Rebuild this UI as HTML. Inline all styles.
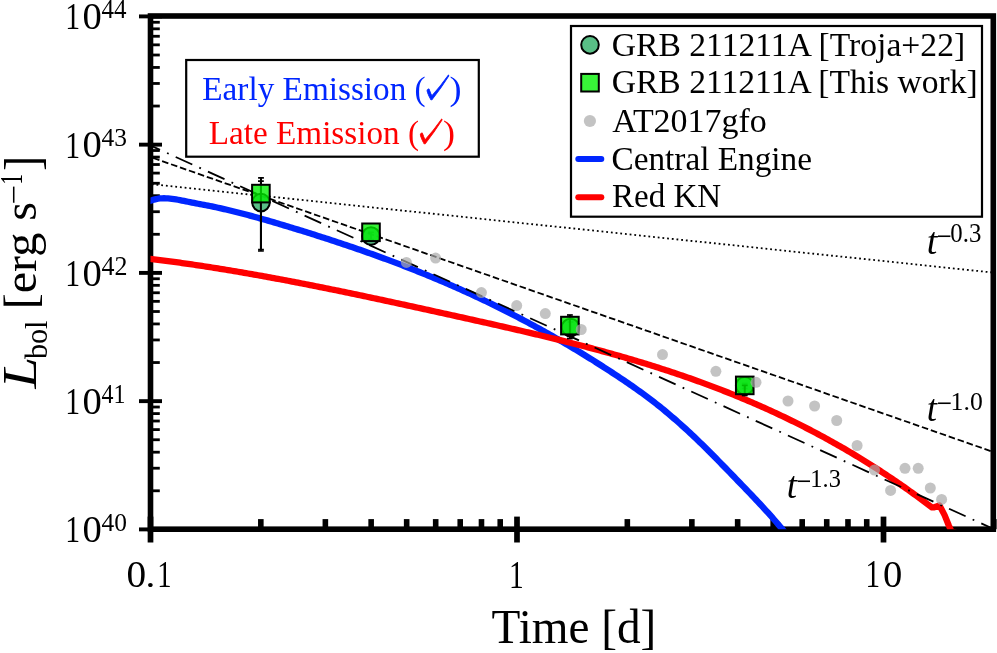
<!DOCTYPE html><html><head><meta charset="utf-8"><style>html,body{margin:0;padding:0;background:#fff;overflow:hidden}svg{display:block}text{font-family:"Liberation Serif","DejaVu Serif",serif}</style></head><body>
<svg width="997" height="653" viewBox="0 0 997 653">
<defs><clipPath id="ax"><rect x="150.50" y="16.00" width="842.80" height="513.20"/></clipPath></defs>
<rect width="997" height="653" fill="#fff"/>
<rect x="150.50" y="16.00" width="842.80" height="513.20" fill="none" stroke="#000" stroke-width="5.60"/>
<line x1="150.50" y1="516.6" x2="150.50" y2="542.5" stroke="#000" stroke-width="5.7"/>
<line x1="517.00" y1="516.6" x2="517.00" y2="542.5" stroke="#000" stroke-width="5.7"/>
<line x1="883.50" y1="516.6" x2="883.50" y2="542.5" stroke="#000" stroke-width="5.7"/>
<line x1="260.83" y1="519.1" x2="260.83" y2="529.20" stroke="#000" stroke-width="5.6"/>
<line x1="325.36" y1="519.1" x2="325.36" y2="529.20" stroke="#000" stroke-width="5.6"/>
<line x1="371.15" y1="519.1" x2="371.15" y2="529.20" stroke="#000" stroke-width="5.6"/>
<line x1="406.67" y1="519.1" x2="406.67" y2="529.20" stroke="#000" stroke-width="5.6"/>
<line x1="435.69" y1="519.1" x2="435.69" y2="529.20" stroke="#000" stroke-width="5.6"/>
<line x1="460.23" y1="519.1" x2="460.23" y2="529.20" stroke="#000" stroke-width="5.6"/>
<line x1="481.48" y1="519.1" x2="481.48" y2="529.20" stroke="#000" stroke-width="5.6"/>
<line x1="500.23" y1="519.1" x2="500.23" y2="529.20" stroke="#000" stroke-width="5.6"/>
<line x1="627.33" y1="519.1" x2="627.33" y2="529.20" stroke="#000" stroke-width="5.6"/>
<line x1="691.86" y1="519.1" x2="691.86" y2="529.20" stroke="#000" stroke-width="5.6"/>
<line x1="737.65" y1="519.1" x2="737.65" y2="529.20" stroke="#000" stroke-width="5.6"/>
<line x1="773.17" y1="519.1" x2="773.17" y2="529.20" stroke="#000" stroke-width="5.6"/>
<line x1="802.19" y1="519.1" x2="802.19" y2="529.20" stroke="#000" stroke-width="5.6"/>
<line x1="826.73" y1="519.1" x2="826.73" y2="529.20" stroke="#000" stroke-width="5.6"/>
<line x1="847.98" y1="519.1" x2="847.98" y2="529.20" stroke="#000" stroke-width="5.6"/>
<line x1="866.73" y1="519.1" x2="866.73" y2="529.20" stroke="#000" stroke-width="5.6"/>
<line x1="993.83" y1="519.1" x2="993.83" y2="529.20" stroke="#000" stroke-width="5.6"/>
<line x1="139" y1="529.40" x2="162" y2="529.40" stroke="#000" stroke-width="3.9"/>
<line x1="139" y1="401.15" x2="162" y2="401.15" stroke="#000" stroke-width="3.9"/>
<line x1="139" y1="272.90" x2="162" y2="272.90" stroke="#000" stroke-width="3.9"/>
<line x1="139" y1="144.65" x2="162" y2="144.65" stroke="#000" stroke-width="3.9"/>
<line x1="139" y1="16.40" x2="162" y2="16.40" stroke="#000" stroke-width="3.9"/>
<line x1="150.50" y1="490.79" x2="159.8" y2="490.79" stroke="#000" stroke-width="2.8"/>
<line x1="150.50" y1="468.21" x2="159.8" y2="468.21" stroke="#000" stroke-width="2.8"/>
<line x1="150.50" y1="452.19" x2="159.8" y2="452.19" stroke="#000" stroke-width="2.8"/>
<line x1="150.50" y1="439.76" x2="159.8" y2="439.76" stroke="#000" stroke-width="2.8"/>
<line x1="150.50" y1="429.60" x2="159.8" y2="429.60" stroke="#000" stroke-width="2.8"/>
<line x1="150.50" y1="421.02" x2="159.8" y2="421.02" stroke="#000" stroke-width="2.8"/>
<line x1="150.50" y1="413.58" x2="159.8" y2="413.58" stroke="#000" stroke-width="2.8"/>
<line x1="150.50" y1="407.02" x2="159.8" y2="407.02" stroke="#000" stroke-width="2.8"/>
<line x1="150.50" y1="362.54" x2="159.8" y2="362.54" stroke="#000" stroke-width="2.8"/>
<line x1="150.50" y1="339.96" x2="159.8" y2="339.96" stroke="#000" stroke-width="2.8"/>
<line x1="150.50" y1="323.94" x2="159.8" y2="323.94" stroke="#000" stroke-width="2.8"/>
<line x1="150.50" y1="311.51" x2="159.8" y2="311.51" stroke="#000" stroke-width="2.8"/>
<line x1="150.50" y1="301.35" x2="159.8" y2="301.35" stroke="#000" stroke-width="2.8"/>
<line x1="150.50" y1="292.77" x2="159.8" y2="292.77" stroke="#000" stroke-width="2.8"/>
<line x1="150.50" y1="285.33" x2="159.8" y2="285.33" stroke="#000" stroke-width="2.8"/>
<line x1="150.50" y1="278.77" x2="159.8" y2="278.77" stroke="#000" stroke-width="2.8"/>
<line x1="150.50" y1="234.29" x2="159.8" y2="234.29" stroke="#000" stroke-width="2.8"/>
<line x1="150.50" y1="211.71" x2="159.8" y2="211.71" stroke="#000" stroke-width="2.8"/>
<line x1="150.50" y1="195.69" x2="159.8" y2="195.69" stroke="#000" stroke-width="2.8"/>
<line x1="150.50" y1="183.26" x2="159.8" y2="183.26" stroke="#000" stroke-width="2.8"/>
<line x1="150.50" y1="173.10" x2="159.8" y2="173.10" stroke="#000" stroke-width="2.8"/>
<line x1="150.50" y1="164.52" x2="159.8" y2="164.52" stroke="#000" stroke-width="2.8"/>
<line x1="150.50" y1="157.08" x2="159.8" y2="157.08" stroke="#000" stroke-width="2.8"/>
<line x1="150.50" y1="150.52" x2="159.8" y2="150.52" stroke="#000" stroke-width="2.8"/>
<line x1="150.50" y1="106.04" x2="159.8" y2="106.04" stroke="#000" stroke-width="2.8"/>
<line x1="150.50" y1="83.46" x2="159.8" y2="83.46" stroke="#000" stroke-width="2.8"/>
<line x1="150.50" y1="67.44" x2="159.8" y2="67.44" stroke="#000" stroke-width="2.8"/>
<line x1="150.50" y1="55.01" x2="159.8" y2="55.01" stroke="#000" stroke-width="2.8"/>
<line x1="150.50" y1="44.85" x2="159.8" y2="44.85" stroke="#000" stroke-width="2.8"/>
<line x1="150.50" y1="36.27" x2="159.8" y2="36.27" stroke="#000" stroke-width="2.8"/>
<line x1="150.50" y1="28.83" x2="159.8" y2="28.83" stroke="#000" stroke-width="2.8"/>
<line x1="150.50" y1="22.27" x2="159.8" y2="22.27" stroke="#000" stroke-width="2.8"/>
<g clip-path="url(#ax)" fill="none" stroke-linejoin="round">
<path d="M140.00,206.93 L142.00,205.40 L144.00,204.04 L146.00,202.84 L148.00,201.81 L150.00,200.92 L152.00,200.18 L154.00,199.58 L156.00,199.10 L158.00,198.73 L160.00,198.48 L162.00,198.33 L164.00,198.27 L166.00,198.30 L168.00,198.40 L170.00,198.57 L172.00,198.80 L174.00,199.08 L176.00,199.40 L178.00,199.76 L180.00,200.14 L182.00,200.55 L184.00,200.96 L186.00,201.37 L188.00,201.78 L190.00,202.18 L192.00,202.57 L194.00,202.95 L196.00,203.34 L198.00,203.72 L200.00,204.09 L202.00,204.47 L204.00,204.86 L206.00,205.24 L208.00,205.63 L210.00,206.03 L212.00,206.44 L214.00,206.86 L216.00,207.28 L218.00,207.72 L220.00,208.16 L222.00,208.60 L224.00,209.06 L226.00,209.52 L228.00,209.99 L230.00,210.47 L232.00,210.95 L234.00,211.44 L236.00,211.94 L238.00,212.44 L240.00,212.95 L242.00,213.47 L244.00,213.99 L246.00,214.52 L248.00,215.05 L250.00,215.59 L252.00,216.13 L254.00,216.68 L256.00,217.23 L258.00,217.78 L260.00,218.35 L262.00,218.91 L264.00,219.48 L266.00,220.05 L268.00,220.63 L270.00,221.21 L272.00,221.80 L274.00,222.38 L276.00,222.97 L278.00,223.57 L280.00,224.16 L282.00,224.76 L284.00,225.36 L286.00,225.97 L288.00,226.57 L290.00,227.18 L292.00,227.79 L294.00,228.40 L296.00,229.01 L298.00,229.63 L300.00,230.24 L302.00,230.86 L304.00,231.48 L306.00,232.11 L308.00,232.73 L310.00,233.36 L312.00,233.99 L314.00,234.62 L316.00,235.25 L318.00,235.89 L320.00,236.53 L322.00,237.17 L324.00,237.81 L326.00,238.46 L328.00,239.11 L330.00,239.76 L332.00,240.41 L334.00,241.07 L336.00,241.73 L338.00,242.39 L340.00,243.05 L342.00,243.72 L344.00,244.39 L346.00,245.06 L348.00,245.74 L350.00,246.42 L352.00,247.10 L354.00,247.78 L356.00,248.47 L358.00,249.16 L360.00,249.85 L362.00,250.55 L364.00,251.25 L366.00,251.95 L368.00,252.66 L370.00,253.37 L372.00,254.08 L374.00,254.80 L376.00,255.51 L378.00,256.24 L380.00,256.96 L382.00,257.69 L384.00,258.43 L386.00,259.16 L388.00,259.90 L390.00,260.65 L392.00,261.39 L394.00,262.14 L396.00,262.90 L398.00,263.66 L400.00,264.42 L402.00,265.18 L404.00,265.95 L406.00,266.73 L408.00,267.51 L410.00,268.29 L412.00,269.07 L414.00,269.86 L416.00,270.66 L418.00,271.45 L420.00,272.26 L422.00,273.06 L424.00,273.87 L426.00,274.69 L428.00,275.51 L430.00,276.33 L432.00,277.16 L434.00,277.99 L436.00,278.83 L438.00,279.67 L440.00,280.51 L442.00,281.36 L444.00,282.22 L446.00,283.08 L448.00,283.94 L450.00,284.81 L452.00,285.68 L454.00,286.56 L456.00,287.44 L458.00,288.33 L460.00,289.22 L462.00,290.12 L464.00,291.02 L466.00,291.93 L468.00,292.84 L470.00,293.76 L472.00,294.68 L474.00,295.60 L476.00,296.54 L478.00,297.47 L480.00,298.42 L482.00,299.36 L484.00,300.32 L486.00,301.27 L488.00,302.24 L490.00,303.20 L492.00,304.18 L494.00,305.16 L496.00,306.14 L498.00,307.13 L500.00,308.12 L502.00,309.12 L504.00,310.13 L506.00,311.14 L508.00,312.15 L510.00,313.17 L512.00,314.20 L514.00,315.23 L516.00,316.26 L518.00,317.31 L520.00,318.35 L522.00,319.40 L524.00,320.46 L526.00,321.52 L528.00,322.59 L530.00,323.67 L532.00,324.75 L534.00,325.83 L536.00,326.92 L538.00,328.02 L540.00,329.12 L542.00,330.22 L544.00,331.34 L546.00,332.45 L548.00,333.58 L550.00,334.70 L552.00,335.84 L554.00,336.98 L556.00,338.12 L558.00,339.27 L560.00,340.43 L562.00,341.59 L564.00,342.76 L566.00,343.93 L568.00,345.11 L570.00,346.30 L572.00,347.49 L574.00,348.68 L576.00,349.88 L578.00,351.09 L580.00,352.30 L582.00,353.52 L584.00,354.74 L586.00,355.98 L588.00,357.21 L590.00,358.45 L592.00,359.70 L594.00,360.95 L596.00,362.21 L598.00,363.48 L600.00,364.75 L602.00,366.02 L604.00,367.31 L606.00,368.59 L608.00,369.89 L610.00,371.19 L612.00,372.49 L614.00,373.81 L616.00,375.12 L618.00,376.45 L620.00,377.78 L622.00,379.12 L624.00,380.47 L626.00,381.82 L628.00,383.19 L630.00,384.57 L632.00,385.95 L634.00,387.35 L636.00,388.76 L638.00,390.19 L640.00,391.62 L642.00,393.07 L644.00,394.53 L646.00,396.01 L648.00,397.50 L650.00,399.01 L652.00,400.53 L654.00,402.08 L656.00,403.63 L658.00,405.21 L660.00,406.81 L662.00,408.42 L664.00,410.05 L666.00,411.70 L668.00,413.37 L670.00,415.06 L672.00,416.77 L674.00,418.49 L676.00,420.23 L678.00,421.99 L680.00,423.77 L682.00,425.56 L684.00,427.37 L686.00,429.19 L688.00,431.03 L690.00,432.89 L692.00,434.76 L694.00,436.65 L696.00,438.55 L698.00,440.47 L700.00,442.40 L702.00,444.35 L704.00,446.31 L706.00,448.28 L708.00,450.27 L710.00,452.26 L712.00,454.27 L714.00,456.28 L716.00,458.31 L718.00,460.34 L720.00,462.38 L722.00,464.43 L724.00,466.48 L726.00,468.54 L728.00,470.60 L730.00,472.66 L732.00,474.73 L734.00,476.80 L736.00,478.87 L738.00,480.95 L740.00,483.02 L742.00,485.09 L744.00,487.16 L746.00,489.24 L748.00,491.32 L750.00,493.41 L752.00,495.51 L754.00,497.61 L756.00,499.73 L758.00,501.85 L760.00,503.99 L762.00,506.15 L764.00,508.32 L766.00,510.51 L768.00,512.72 L770.00,514.95 L772.00,517.21 L774.00,519.49 L776.00,521.79 L778.00,524.12 L780.00,526.48 L782.00,528.87 L784.00,531.29 L786.00,533.74 L788.00,536.23 L790.00,538.76 L792.00,541.32" stroke="#0026ff" stroke-width="6.3"/>
<path d="M140.00,257.62 L142.00,257.85 L144.00,258.09 L146.00,258.32 L148.00,258.56 L150.00,258.81 L152.00,259.05 L154.00,259.30 L156.00,259.55 L158.00,259.80 L160.00,260.06 L162.00,260.31 L164.00,260.57 L166.00,260.84 L168.00,261.10 L170.00,261.37 L172.00,261.64 L174.00,261.91 L176.00,262.18 L178.00,262.46 L180.00,262.74 L182.00,263.02 L184.00,263.30 L186.00,263.59 L188.00,263.88 L190.00,264.17 L192.00,264.46 L194.00,264.75 L196.00,265.05 L198.00,265.35 L200.00,265.65 L202.00,265.95 L204.00,266.26 L206.00,266.57 L208.00,266.88 L210.00,267.19 L212.00,267.50 L214.00,267.82 L216.00,268.14 L218.00,268.46 L220.00,268.78 L222.00,269.10 L224.00,269.43 L226.00,269.75 L228.00,270.08 L230.00,270.42 L232.00,270.75 L234.00,271.08 L236.00,271.42 L238.00,271.76 L240.00,272.10 L242.00,272.44 L244.00,272.79 L246.00,273.13 L248.00,273.48 L250.00,273.83 L252.00,274.18 L254.00,274.54 L256.00,274.89 L258.00,275.25 L260.00,275.60 L262.00,275.96 L264.00,276.33 L266.00,276.69 L268.00,277.05 L270.00,277.42 L272.00,277.79 L274.00,278.16 L276.00,278.53 L278.00,278.90 L280.00,279.27 L282.00,279.65 L284.00,280.03 L286.00,280.40 L288.00,280.78 L290.00,281.16 L292.00,281.55 L294.00,281.93 L296.00,282.32 L298.00,282.70 L300.00,283.09 L302.00,283.48 L304.00,283.87 L306.00,284.26 L308.00,284.66 L310.00,285.05 L312.00,285.45 L314.00,285.84 L316.00,286.24 L318.00,286.64 L320.00,287.04 L322.00,287.44 L324.00,287.84 L326.00,288.25 L328.00,288.65 L330.00,289.06 L332.00,289.47 L334.00,289.87 L336.00,290.28 L338.00,290.69 L340.00,291.10 L342.00,291.52 L344.00,291.93 L346.00,292.34 L348.00,292.76 L350.00,293.17 L352.00,293.59 L354.00,294.01 L356.00,294.43 L358.00,294.85 L360.00,295.27 L362.00,295.69 L364.00,296.11 L366.00,296.53 L368.00,296.96 L370.00,297.38 L372.00,297.81 L374.00,298.23 L376.00,298.66 L378.00,299.09 L380.00,299.51 L382.00,299.94 L384.00,300.37 L386.00,300.80 L388.00,301.23 L390.00,301.66 L392.00,302.10 L394.00,302.53 L396.00,302.96 L398.00,303.39 L400.00,303.83 L402.00,304.26 L404.00,304.70 L406.00,305.13 L408.00,305.57 L410.00,306.00 L412.00,306.44 L414.00,306.88 L416.00,307.32 L418.00,307.75 L420.00,308.19 L422.00,308.63 L424.00,309.07 L426.00,309.51 L428.00,309.95 L430.00,310.39 L432.00,310.83 L434.00,311.27 L436.00,311.71 L438.00,312.15 L440.00,312.59 L442.00,313.03 L444.00,313.47 L446.00,313.91 L448.00,314.35 L450.00,314.80 L452.00,315.24 L454.00,315.68 L456.00,316.12 L458.00,316.56 L460.00,317.01 L462.00,317.45 L464.00,317.89 L466.00,318.34 L468.00,318.78 L470.00,319.22 L472.00,319.67 L474.00,320.11 L476.00,320.56 L478.00,321.00 L480.00,321.45 L482.00,321.90 L484.00,322.35 L486.00,322.79 L488.00,323.24 L490.00,323.69 L492.00,324.14 L494.00,324.60 L496.00,325.05 L498.00,325.50 L500.00,325.96 L502.00,326.41 L504.00,326.87 L506.00,327.32 L508.00,327.78 L510.00,328.24 L512.00,328.70 L514.00,329.16 L516.00,329.62 L518.00,330.09 L520.00,330.55 L522.00,331.02 L524.00,331.49 L526.00,331.96 L528.00,332.43 L530.00,332.90 L532.00,333.37 L534.00,333.85 L536.00,334.32 L538.00,334.80 L540.00,335.28 L542.00,335.76 L544.00,336.24 L546.00,336.73 L548.00,337.21 L550.00,337.70 L552.00,338.19 L554.00,338.68 L556.00,339.18 L558.00,339.67 L560.00,340.17 L562.00,340.67 L564.00,341.17 L566.00,341.67 L568.00,342.18 L570.00,342.68 L572.00,343.19 L574.00,343.70 L576.00,344.22 L578.00,344.73 L580.00,345.25 L582.00,345.77 L584.00,346.29 L586.00,346.82 L588.00,347.35 L590.00,347.88 L592.00,348.41 L594.00,348.94 L596.00,349.48 L598.00,350.02 L600.00,350.56 L602.00,351.11 L604.00,351.66 L606.00,352.21 L608.00,352.76 L610.00,353.32 L612.00,353.87 L614.00,354.44 L616.00,355.00 L618.00,355.57 L620.00,356.14 L622.00,356.71 L624.00,357.29 L626.00,357.87 L628.00,358.45 L630.00,359.04 L632.00,359.63 L634.00,360.22 L636.00,360.82 L638.00,361.42 L640.00,362.02 L642.00,362.63 L644.00,363.24 L646.00,363.85 L648.00,364.47 L650.00,365.09 L652.00,365.71 L654.00,366.34 L656.00,366.97 L658.00,367.61 L660.00,368.25 L662.00,368.89 L664.00,369.54 L666.00,370.19 L668.00,370.84 L670.00,371.50 L672.00,372.17 L674.00,372.83 L676.00,373.50 L678.00,374.18 L680.00,374.86 L682.00,375.54 L684.00,376.23 L686.00,376.92 L688.00,377.62 L690.00,378.32 L692.00,379.03 L694.00,379.74 L696.00,380.45 L698.00,381.17 L700.00,381.89 L702.00,382.62 L704.00,383.35 L706.00,384.09 L708.00,384.83 L710.00,385.58 L712.00,386.33 L714.00,387.09 L716.00,387.85 L718.00,388.62 L720.00,389.39 L722.00,390.17 L724.00,390.95 L726.00,391.73 L728.00,392.53 L730.00,393.32 L732.00,394.12 L734.00,394.93 L736.00,395.74 L738.00,396.56 L740.00,397.39 L742.00,398.22 L744.00,399.05 L746.00,399.89 L748.00,400.73 L750.00,401.59 L752.00,402.44 L754.00,403.30 L756.00,404.17 L758.00,405.05 L760.00,405.93 L762.00,406.81 L764.00,407.70 L766.00,408.60 L768.00,409.50 L770.00,410.41 L772.00,411.32 L774.00,412.25 L776.00,413.17 L778.00,414.11 L780.00,415.04 L782.00,415.99 L784.00,416.94 L786.00,417.90 L788.00,418.86 L790.00,419.83 L792.00,420.81 L794.00,421.80 L796.00,422.78 L798.00,423.78 L800.00,424.78 L802.00,425.79 L804.00,426.81 L806.00,427.83 L808.00,428.86 L810.00,429.90 L812.00,430.94 L814.00,431.99 L816.00,433.05 L818.00,434.11 L820.00,435.18 L822.00,436.26 L824.00,437.35 L826.00,438.44 L828.00,439.54 L830.00,440.64 L832.00,441.76 L834.00,442.88 L836.00,444.00 L838.00,445.14 L840.00,446.28 L842.00,447.43 L844.00,448.59 L846.00,449.75 L848.00,450.92 L850.00,452.10 L852.00,453.29 L854.00,454.49 L856.00,455.69 L858.00,456.90 L860.00,458.12 L862.00,459.34 L864.00,460.58 L866.00,461.82 L868.00,463.07 L870.00,464.32 L872.00,465.59 L874.00,466.86 L876.00,468.14 L878.00,469.43 L880.00,470.73 L882.00,472.04 L884.00,473.35 L886.00,474.67 L888.00,476.00 L890.00,477.34 L892.00,478.69 L894.00,480.04 L896.00,481.41 L898.00,482.78 L900.00,484.16 L902.00,485.55 L904.00,486.95 L906.00,488.36 L908.00,489.77 L910.00,491.20 L912.00,492.63 L914.00,494.07 L916.00,495.52 L918.00,496.98 L920.00,498.45 L922.00,499.93 L924.00,501.41 L926.00,502.91 L928.00,504.41 L930.00,505.93 L932.00,507.45 L934.30,507.30 L939.50,505.40 L944.60,515.10 L948.70,525.20 L951.00,530.50 L958.00,534.00" stroke="#ff0000" stroke-width="6.3"/>
<line x1="133.73" y1="182.34" x2="1001.59" y2="273.45" stroke="#000" stroke-width="1.8" stroke-dasharray="1.80 2.91" stroke-dashoffset="0.63"/>
<line x1="133.73" y1="151.21" x2="1001.59" y2="454.90" stroke="#000" stroke-width="1.8" stroke-dasharray="6.60 2.87" stroke-dashoffset="7.82"/>
<line x1="133.73" y1="137.87" x2="1001.59" y2="532.67" stroke="#000" stroke-width="1.8" stroke-dasharray="18.20 7.70 1.80 7.70" stroke-dashoffset="24.68"/>
</g>
<g clip-path="url(#ax)">
<line x1="261.00" y1="177.90" x2="261.00" y2="249.70" stroke="#000" stroke-width="2.00"/><line x1="258.10" y1="177.90" x2="263.90" y2="177.90" stroke="#000" stroke-width="1.70"/><line x1="258.10" y1="249.70" x2="263.90" y2="249.70" stroke="#000" stroke-width="1.70"/>
<circle cx="261.00" cy="202.60" r="8.8" fill="#3cb371" fill-opacity="0.85" stroke="#000" stroke-width="2"/>
<line x1="371.00" y1="232.30" x2="371.00" y2="239.70" stroke="#000" stroke-width="2.00"/><line x1="368.10" y1="232.30" x2="373.90" y2="232.30" stroke="#000" stroke-width="1.70"/><line x1="368.10" y1="239.70" x2="373.90" y2="239.70" stroke="#000" stroke-width="1.70"/>
<circle cx="371.00" cy="236.00" r="8.8" fill="#3cb371" fill-opacity="0.85" stroke="#000" stroke-width="2"/>
<line x1="570.50" y1="322.00" x2="570.50" y2="333.00" stroke="#000" stroke-width="2.00"/><line x1="567.60" y1="322.00" x2="573.40" y2="322.00" stroke="#000" stroke-width="1.70"/><line x1="567.60" y1="333.00" x2="573.40" y2="333.00" stroke="#000" stroke-width="1.70"/>
<circle cx="570.50" cy="327.50" r="8.8" fill="#3cb371" fill-opacity="0.85" stroke="#000" stroke-width="2"/>
<line x1="744.70" y1="383.50" x2="744.70" y2="388.50" stroke="#000" stroke-width="2.00"/><line x1="741.80" y1="383.50" x2="747.60" y2="383.50" stroke="#000" stroke-width="1.70"/><line x1="741.80" y1="388.50" x2="747.60" y2="388.50" stroke="#000" stroke-width="1.70"/>
<circle cx="744.70" cy="385.80" r="8.8" fill="#3cb371" fill-opacity="0.85" stroke="#000" stroke-width="2"/>
<line x1="260.90" y1="181.10" x2="260.90" y2="251.00" stroke="#000" stroke-width="2.00"/><line x1="258.00" y1="181.10" x2="263.80" y2="181.10" stroke="#000" stroke-width="1.70"/><line x1="258.00" y1="251.00" x2="263.80" y2="251.00" stroke="#000" stroke-width="1.70"/>
<rect x="252.10" y="184.80" width="17.6" height="17.6" fill="#00f000" fill-opacity="0.78" stroke="#000" stroke-width="2"/>
<rect x="362.20" y="223.50" width="17.6" height="17.6" fill="#00f000" fill-opacity="0.78" stroke="#000" stroke-width="2"/>
<line x1="569.90" y1="315.00" x2="569.90" y2="338.50" stroke="#000" stroke-width="2.00"/><line x1="567.00" y1="315.00" x2="572.80" y2="315.00" stroke="#000" stroke-width="1.70"/><line x1="567.00" y1="338.50" x2="572.80" y2="338.50" stroke="#000" stroke-width="1.70"/>
<rect x="561.10" y="316.80" width="17.6" height="17.6" fill="#00f000" fill-opacity="0.78" stroke="#000" stroke-width="2"/>
<line x1="744.75" y1="385.40" x2="744.75" y2="395.50" stroke="#000" stroke-width="2.00"/><line x1="741.85" y1="385.40" x2="747.65" y2="385.40" stroke="#000" stroke-width="1.70"/><line x1="741.85" y1="395.50" x2="747.65" y2="395.50" stroke="#000" stroke-width="1.70"/>
<rect x="735.95" y="376.60" width="17.6" height="17.6" fill="#00f000" fill-opacity="0.78" stroke="#000" stroke-width="2"/>
<circle cx="406.40" cy="262.40" r="5.5" fill="#a9a9a9" fill-opacity="0.7"/>
<circle cx="435.60" cy="258.10" r="5.5" fill="#a9a9a9" fill-opacity="0.7"/>
<circle cx="481.40" cy="292.60" r="5.5" fill="#a9a9a9" fill-opacity="0.7"/>
<circle cx="516.70" cy="305.60" r="5.5" fill="#a9a9a9" fill-opacity="0.7"/>
<circle cx="545.30" cy="313.60" r="5.5" fill="#a9a9a9" fill-opacity="0.7"/>
<circle cx="581.20" cy="329.50" r="5.5" fill="#a9a9a9" fill-opacity="0.7"/>
<circle cx="662.50" cy="354.60" r="5.5" fill="#a9a9a9" fill-opacity="0.7"/>
<circle cx="715.90" cy="371.30" r="5.5" fill="#a9a9a9" fill-opacity="0.7"/>
<circle cx="756.00" cy="382.30" r="5.5" fill="#a9a9a9" fill-opacity="0.7"/>
<circle cx="788.00" cy="401.00" r="5.5" fill="#a9a9a9" fill-opacity="0.7"/>
<circle cx="814.60" cy="406.00" r="5.5" fill="#a9a9a9" fill-opacity="0.7"/>
<circle cx="836.70" cy="420.50" r="5.5" fill="#a9a9a9" fill-opacity="0.7"/>
<circle cx="857.10" cy="445.50" r="5.5" fill="#a9a9a9" fill-opacity="0.7"/>
<circle cx="874.50" cy="470.00" r="5.5" fill="#a9a9a9" fill-opacity="0.7"/>
<circle cx="890.60" cy="490.40" r="5.5" fill="#a9a9a9" fill-opacity="0.7"/>
<circle cx="905.00" cy="468.30" r="5.5" fill="#a9a9a9" fill-opacity="0.7"/>
<circle cx="918.20" cy="468.30" r="5.5" fill="#a9a9a9" fill-opacity="0.7"/>
<circle cx="930.30" cy="488.00" r="5.5" fill="#a9a9a9" fill-opacity="0.7"/>
<circle cx="941.60" cy="499.40" r="5.5" fill="#a9a9a9" fill-opacity="0.7"/>
</g>
<rect x="186.2" y="60" width="292.6" height="96.7" fill="#fff" stroke="#000" stroke-width="2.2"/>
<rect x="571" y="26" width="411" height="190.7" fill="#fff" stroke="#000" stroke-width="2.2"/>
<circle cx="590" cy="44.85" r="8.8" fill="#3cb371" fill-opacity="0.85" stroke="#000" stroke-width="2"/>
<rect x="581.2" y="73.9" width="17.6" height="17.6" fill="#00f000" fill-opacity="0.78" stroke="#000" stroke-width="2"/>
<circle cx="589.9" cy="121" r="6.1" fill="#a9a9a9" fill-opacity="0.7"/>
<line x1="578.3" y1="159.1" x2="601.3" y2="159.1" stroke="#0026ff" stroke-width="6" stroke-linecap="round"/>
<line x1="578.3" y1="197.3" x2="601.3" y2="197.3" stroke="#ff0000" stroke-width="6" stroke-linecap="round"/>
<text transform="matrix(0.7429,0,0,0.9698,65.20,29.30)" font-size="40" fill="#000">1</text>
<text transform="matrix(0.9647,0,0,0.9670,82.45,29.12)" font-size="40" fill="#000">0</text>
<text transform="matrix(0.8926,0,0,0.9459,101.55,18.00)" font-size="28" fill="#000">44</text>
<text transform="matrix(0.7429,0,0,0.9698,65.20,157.55)" font-size="40" fill="#000">1</text>
<text transform="matrix(0.9647,0,0,0.9670,82.45,157.37)" font-size="40" fill="#000">0</text>
<text transform="matrix(0.9094,0,0,0.9333,101.55,146.02)" font-size="28" fill="#000">43</text>
<text transform="matrix(0.7429,0,0,0.9698,65.20,285.80)" font-size="40" fill="#000">1</text>
<text transform="matrix(0.9647,0,0,0.9670,82.45,285.62)" font-size="40" fill="#000">0</text>
<text transform="matrix(0.9269,0,0,0.9459,101.54,274.50)" font-size="28" fill="#000">42</text>
<text transform="matrix(0.7429,0,0,0.9698,65.20,414.05)" font-size="40" fill="#000">1</text>
<text transform="matrix(0.9647,0,0,0.9670,82.45,413.87)" font-size="40" fill="#000">0</text>
<text transform="matrix(0.8544,0,0,0.9459,101.57,402.75)" font-size="28" fill="#000">41</text>
<text transform="matrix(0.7429,0,0,0.9698,65.20,542.30)" font-size="40" fill="#000">1</text>
<text transform="matrix(0.9647,0,0,0.9670,82.45,542.12)" font-size="40" fill="#000">0</text>
<text transform="matrix(0.9094,0,0,0.9211,101.55,530.77)" font-size="28" fill="#000">40</text>
<text transform="matrix(0.9824,0,0,0.9541,126.43,587.12)" font-size="40" fill="#000">0</text>
<text transform="matrix(0.9778,0,0,0.8211,145.51,587.19)" font-size="40" fill="#000">.</text>
<text transform="matrix(0.7143,0,0,0.9698,157.20,587.30)" font-size="40" fill="#000">1</text>
<text transform="matrix(0.7357,0,0,0.9774,508.93,587.50)" font-size="40" fill="#000">1</text>
<text transform="matrix(0.7286,0,0,0.9774,865.45,587.40)" font-size="40" fill="#000">1</text>
<text transform="matrix(0.9647,0,0,0.9688,883.05,587.42)" font-size="40" fill="#000">0</text>
<text transform="matrix(0.9844,0,0,1.0317,491.46,643.30)" font-size="48" fill="#000">Time [d]</text>
<text transform="matrix(1.0000,0,0,1.0207,926.65,253.84)" font-size="38" font-style="italic" fill="#000">t</text>
<text transform="matrix(0.9840,0,0,1.2000,936.42,246.85)" font-size="27" fill="#000">−</text>
<text transform="matrix(0.9197,0,0,0.9838,950.28,242.31)" font-size="27" fill="#000">0.3</text>
<text transform="matrix(0.9684,0,0,1.0023,926.71,421.45)" font-size="38" font-style="italic" fill="#000">t</text>
<text transform="matrix(1.0080,0,0,1.2000,936.39,414.25)" font-size="27" fill="#000">−</text>
<text transform="matrix(0.9521,0,0,0.9514,950.62,410.02)" font-size="27" fill="#000">1.0</text>
<text transform="matrix(0.9684,0,0,1.0023,786.71,498.45)" font-size="38" font-style="italic" fill="#000">t</text>
<text transform="matrix(0.9760,0,0,1.2000,796.14,491.55)" font-size="27" fill="#000">−</text>
<text transform="matrix(0.9058,0,0,0.9514,810.34,487.02)" font-size="27" fill="#000">1.3</text>
<text transform="matrix(0.9973,0,0,0.9955,202.30,99.80)" font-size="33.33" fill="#0026ff">Early Emission (</text>
<text transform="matrix(1.0161,0,0,1.1156,419.18,101.95)" font-size="33.33" style="font-family:IPAGothic,DejaVu Sans,sans-serif" fill="#0026ff" stroke="#0026ff" stroke-width="0.7" stroke-linejoin="round">✓</text>
<text transform="matrix(1.0824,0,0,1.0000,449.42,99.70)" font-size="33.33" fill="#0026ff">)</text>
<text transform="matrix(0.9971,0,0,0.9793,208.70,143.60)" font-size="33.33" fill="#ff0000">Late Emission (</text>
<text transform="matrix(1.0161,0,0,1.1156,412.58,146.05)" font-size="33.33" style="font-family:IPAGothic,DejaVu Sans,sans-serif" fill="#ff0000" stroke="#ff0000" stroke-width="0.7" stroke-linejoin="round">✓</text>
<text transform="matrix(1.0824,0,0,1.0000,443.02,143.90)" font-size="33.33" fill="#ff0000">)</text>
<text transform="matrix(0.9987,0,0,1,611.70,55.60)" font-size="33.7" fill="#000">GRB 211211A [Troja+22]</text>
<text transform="matrix(0.9971,0,0,1,611.70,93.40)" font-size="33.7" fill="#000">GRB 211211A [This work]</text>
<text transform="matrix(1.0072,0,0,1,612.15,131.60)" font-size="33.7" fill="#000">AT2017gfo</text>
<text transform="matrix(0.9875,0,0,1,611.52,169.50)" font-size="33.7" fill="#000">Central Engine</text>
<text transform="matrix(0.9808,0,0,1,612.02,207.30)" font-size="33.7" fill="#000">Red KN</text>
<text transform="matrix(0,-1.1838,1.0032,0,36.20,388.41)" font-size="48" font-style="italic" fill="#000">L</text>
<text transform="matrix(0,-0.8889,0.9179,0,47.47,359.10)" font-size="34" fill="#000">bol</text>
<text transform="matrix(0,-1.0034,0.9463,0,36.30,309.31)" font-size="48" fill="#000">[erg s</text>
<text transform="matrix(0,-1.0222,0.9143,0,24.20,204.59)" font-size="34" fill="#000">−</text>
<text transform="matrix(0,-0.6417,0.9303,0,22.20,184.83)" font-size="34" fill="#000">1</text>
<text transform="matrix(0,-0.9302,1.0525,0,39.06,170.73)" font-size="48" fill="#000">]</text>
</svg></body></html>
